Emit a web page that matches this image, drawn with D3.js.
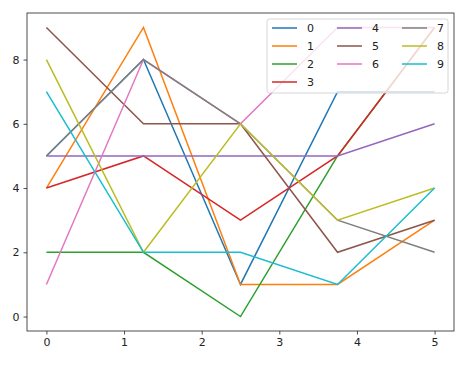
<!DOCTYPE html>
<html>
<head>
<meta charset="utf-8">
<script src="https://d3js.org/d3.v7.min.js"></script>
<style>
  body { margin: 0; background: #fff; }
  text { font-family: "DejaVu Sans", sans-serif; fill: #222; }
</style>
</head>
<body>
<script>
// x positions shared by every series
const xs = [0, 1.25, 2.5, 3.75, 5];
const names = ["0", "1", "2", "3", "4", "5", "6", "7", "8", "9"];
const s0 = [5, 8, 1, 7, 7];
const s1 = [4, 9, 1, 1, 3];
const s2 = [2, 2, 0, 5, 9];
const s3 = [4, 5, 3, 5, 9];
const s4 = [5, 5, 5, 5, 6];
const s5 = [9, 6, 6, 2, 3];
const s6 = [1, 8, 6, 9, 9];
const s7 = [5, 8, 6, 3, 2];
const s8 = [8, 2, 6, 3, 4];
const s9 = [7, 2, 2, 1, 4];
const xTicks = [0, 1, 2, 3, 4, 5];
const yTicks = [0, 2, 4, 6, 8];

const series = [s0, s1, s2, s3, s4, s5, s6, s7, s8, s9];
const colors = ["#1f77b4", "#ff7f0e", "#2ca02c", "#d62728", "#9467bd",
                "#8c564b", "#e377c2", "#7f7f7f", "#bcbd22", "#17becf"];

const width = 474, height = 365;
const m = {left: 27, right: 20, top: 13, bottom: 34};

const svg = d3.select("body").append("svg")
  .attr("width", width).attr("height", height);

const x = d3.scaleLinear().domain([-0.25, 5.25]).range([m.left, width - m.right]);
const y = d3.scaleLinear().domain([-0.45, 9.45]).range([height - m.bottom, m.top]);

const line = d3.line().x((d, i) => x(xs[i])).y(d => y(d));

const plot = svg.append("g");
series.forEach((s, i) => {
  plot.append("path")
    .datum(s)
    .attr("d", line)
    .attr("fill", "none")
    .attr("stroke", colors[i])
    .attr("stroke-width", 1.5);
});

// axes
const xAxis = svg.append("g")
  .attr("transform", `translate(0,${height - m.bottom})`)
  .call(d3.axisBottom(x).tickValues(xTicks).tickSize(3.5).tickPadding(4).tickFormat(d3.format("d")));
const yAxis = svg.append("g")
  .attr("transform", `translate(${m.left},0)`)
  .call(d3.axisLeft(y).tickValues(yTicks).tickSize(3.5).tickPadding(4).tickFormat(d3.format("d")));
[xAxis, yAxis].forEach(a => {
  a.attr("font-size", 11).attr("font-family", "DejaVu Sans, sans-serif");
  a.select(".domain").remove();
  a.selectAll("line").attr("stroke", "#222").attr("stroke-width", 0.8);
  a.selectAll("text").attr("fill", "#222");
});

// frame
svg.append("rect")
  .attr("x", m.left).attr("y", m.top)
  .attr("width", width - m.left - m.right)
  .attr("height", height - m.top - m.bottom)
  .attr("fill", "none").attr("stroke", "#222").attr("stroke-width", 0.8);

// legend: 3 columns, filled column by column (4, 3, 3)
const lg = svg.append("g").attr("transform", "translate(267,19)");
lg.append("rect")
  .attr("width", 181).attr("height", 74).attr("rx", 2.5)
  .attr("fill", "#fff").attr("fill-opacity", 0.8)
  .attr("stroke", "#ccc").attr("stroke-width", 0.8);
const colStart = [0, 4, 7];
names.forEach((n, i) => {
  const col = i < 4 ? 0 : i < 7 ? 1 : 2;
  const row = i - colStart[col];
  const g = lg.append("g").attr("transform", `translate(${5 + col * 65},${9 + row * 18})`);
  g.append("line").attr("x1", 0).attr("x2", 25).attr("stroke", colors[i]).attr("stroke-width", 1.5);
  g.append("text").attr("x", 35).attr("dy", "0.35em").attr("font-size", 11).text(n);
});
</script>
</body>
</html>
